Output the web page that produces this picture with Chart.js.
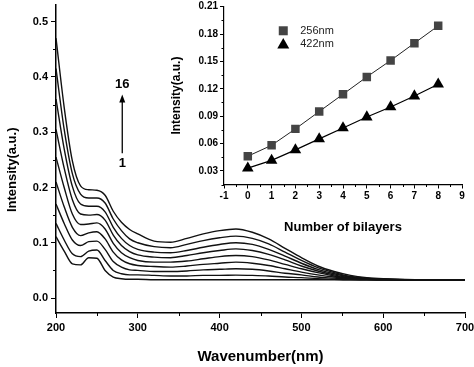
<!DOCTYPE html>
<html>
<head>
<meta charset="utf-8">
<title>UV-vis spectra of multilayer film</title>
<script src="https://cdn.jsdelivr.net/npm/chart.js@4.4.0/dist/chart.umd.min.js"></script>
<style>
    html, body { margin: 0; padding: 0; background: #fff; }
    #wrap { position: relative; width: 474px; height: 367px; overflow: hidden; }
    #mainChart { position: absolute; left: 0; top: 0; }
    #insetChart { position: absolute; left: 160px; top: 0; }
</style>
</head>
<body>
<div id="wrap">
    <canvas id="mainChart" width="474" height="367"></canvas>
    <canvas id="insetChart" width="314" height="240"></canvas>
</div>
<script>
// ============================================================
// DATA - main spectra (bottom curve first)
// ============================================================
const wavelengths = [200, 210, 220, 230, 240, 250, 260, 270, 280, 290, 300, 320, 340, 360,
                     380, 400, 420, 440, 460, 480, 500, 520, 540, 560, 580, 600, 650, 700];

const spectrum1 = [0.111, 0.085, 0.062, 0.060, 0.073, 0.072, 0.050, 0.038, 0.035, 0.034, 0.034, 0.033, 0.033, 0.033,
                   0.033, 0.033, 0.033, 0.033, 0.033, 0.033, 0.033, 0.033, 0.033, 0.033, 0.033, 0.033, 0.033, 0.033];
const spectrum2 = [0.135, 0.105, 0.080, 0.075, 0.085, 0.087, 0.068, 0.050, 0.044, 0.042, 0.042, 0.041, 0.040, 0.040,
                   0.041, 0.041, 0.0415, 0.041, 0.040, 0.038, 0.037, 0.035, 0.034, 0.033, 0.033, 0.033, 0.033, 0.033];
const spectrum3 = [0.170, 0.135, 0.105, 0.095, 0.102, 0.103, 0.088, 0.066, 0.056, 0.051, 0.050, 0.048, 0.048, 0.049,
                   0.051, 0.052, 0.053, 0.052, 0.049, 0.045, 0.042, 0.038, 0.036, 0.034, 0.033, 0.033, 0.033, 0.033];
const spectrum4 = [0.210, 0.165, 0.128, 0.113, 0.118, 0.120, 0.107, 0.083, 0.069, 0.062, 0.059, 0.057, 0.056, 0.058,
                   0.061, 0.063, 0.065, 0.063, 0.059, 0.053, 0.047, 0.042, 0.038, 0.035, 0.034, 0.033, 0.033, 0.033];
const spectrum5 = [0.255, 0.200, 0.152, 0.133, 0.134, 0.136, 0.125, 0.099, 0.082, 0.073, 0.068, 0.065, 0.065, 0.067,
                   0.071, 0.075, 0.077, 0.075, 0.069, 0.061, 0.053, 0.046, 0.040, 0.036, 0.034, 0.033, 0.033, 0.033];
const spectrum6 = [0.305, 0.235, 0.178, 0.152, 0.150, 0.151, 0.141, 0.114, 0.095, 0.084, 0.078, 0.074, 0.073, 0.077,
                   0.082, 0.086, 0.089, 0.086, 0.079, 0.069, 0.058, 0.049, 0.042, 0.037, 0.035, 0.034, 0.033, 0.033];
const spectrum7 = [0.360, 0.270, 0.202, 0.170, 0.166, 0.166, 0.156, 0.128, 0.108, 0.095, 0.088, 0.083, 0.082, 0.086,
                   0.092, 0.097, 0.100, 0.097, 0.088, 0.076, 0.063, 0.052, 0.044, 0.038, 0.035, 0.034, 0.033, 0.033];
const spectrum8 = [0.415, 0.305, 0.225, 0.188, 0.181, 0.181, 0.172, 0.143, 0.122, 0.107, 0.100, 0.093, 0.091, 0.097,
                   0.104, 0.109, 0.112, 0.108, 0.098, 0.083, 0.068, 0.055, 0.046, 0.039, 0.036, 0.034, 0.033, 0.033];
const spectrum9 = [0.470, 0.345, 0.248, 0.203, 0.196, 0.195, 0.186, 0.157, 0.137, 0.124, 0.116, 0.103, 0.101, 0.108,
                   0.116, 0.122, 0.125, 0.119, 0.107, 0.090, 0.073, 0.058, 0.048, 0.041, 0.037, 0.035, 0.033, 0.033];

const mainXTicks = [200, 300, 400, 500, 600, 700];
const mainYTicks = [0.0, 0.1, 0.2, 0.3, 0.4, 0.5];

// ============================================================
// DATA - inset
// ============================================================
const bilayers = [0, 1, 2, 3, 4, 5, 6, 7, 8];
const peak256 = [0.046, 0.058, 0.076, 0.095, 0.114, 0.133, 0.151, 0.170, 0.189];
const peak422 = [0.033, 0.0415, 0.053, 0.065, 0.077, 0.089, 0.100, 0.112, 0.125];
const insetXTicks = [-1, 0, 1, 2, 3, 4, 5, 6, 7, 8, 9];
const insetYTicks = [0.03, 0.06, 0.09, 0.12, 0.15, 0.18, 0.21];

(function () {
    'use strict';

    const FONT = '"Liberation Sans", Arial, sans-serif';
    const spectra = [spectrum1, spectrum2, spectrum3, spectrum4, spectrum5,
                     spectrum6, spectrum7, spectrum8, spectrum9];

    // ============================================================
    // PLUGINS
    // ============================================================
    // short outward ticks between the labelled ones
    const minorTicks = {
        id: 'minorTicks',
        afterDraw(chart, args, opts) {
            const ctx = chart.ctx;
            ctx.save();
            ctx.strokeStyle = '#000';
            ctx.lineWidth = 1;
            (opts.axes || []).forEach(a => {
                const scale = chart.scales[a.id];
                for (let i = 0; i < 200; i++) {
                    const v = a.from + i * a.step;
                    if (v > scale.max + 1e-9) break;
                    if (v < scale.min) continue;
                    const p = Math.round(scale.getPixelForValue(v)) + 0.5;
                    ctx.beginPath();
                    if (scale.isHorizontal()) {
                        ctx.moveTo(p, scale.top);
                        ctx.lineTo(p, scale.top + a.len);
                    } else {
                        ctx.moveTo(scale.right, p);
                        ctx.lineTo(scale.right - a.len, p);
                    }
                    ctx.stroke();
                }
            });
            ctx.restore();
        }
    };

    // "1 -> 16" arrow and the rotated y title of the main plot
    const arrowNote = {
        id: 'arrowNote',
        afterDatasetsDraw(chart, args, o) {
            const x = chart.scales.x, y = chart.scales.y;
            const ctx = chart.ctx;
            const px = x.getPixelForValue(o.x);
            const yFrom = y.getPixelForValue(o.from);
            const yTo = y.getPixelForValue(o.to);
            ctx.save();
            ctx.strokeStyle = '#000';
            ctx.fillStyle = '#000';
            ctx.lineWidth = 1.3;
            ctx.beginPath();
            ctx.moveTo(px, yFrom);
            ctx.lineTo(px, yTo + 6);
            ctx.stroke();
            ctx.beginPath();
            ctx.moveTo(px, yTo);
            ctx.lineTo(px - 3, yTo + 8);
            ctx.lineTo(px + 3, yTo + 8);
            ctx.closePath();
            ctx.fill();
            ctx.font = 'bold 13px ' + FONT;
            ctx.textAlign = 'center';
            ctx.textBaseline = 'middle';
            ctx.fillText(o.topText, px, y.getPixelForValue(o.topAt));
            ctx.fillText(o.bottomText, px, y.getPixelForValue(o.bottomAt));

            // y title, centred a little below the axis middle as in the source
            ctx.translate(o.titleX, y.getPixelForValue(o.titleAt));
            ctx.rotate(-Math.PI / 2);
            ctx.font = 'bold 13px ' + FONT;
            ctx.fillText(o.title, 0, 0);
            ctx.restore();
        }
    };

    // legend drawn inside the inset plot
    const insetLegend = {
        id: 'insetLegend',
        afterDatasetsDraw(chart, args, o) {
            const x = chart.scales.x, y = chart.scales.y;
            const ctx = chart.ctx;
            ctx.save();
            ctx.font = '11px ' + FONT;
            ctx.textBaseline = 'middle';
            ctx.textAlign = 'left';
            chart.data.datasets.forEach((ds, i) => {
                const mx = x.getPixelForValue(o.markX);
                const my = y.getPixelForValue(o.rows[i]);
                ctx.fillStyle = ds.pointBackgroundColor;
                ctx.beginPath();
                if (ds.pointStyle === 'rect') {
                    ctx.rect(mx - 4.5, my - 4.5, 9, 9);
                } else {
                    ctx.moveTo(mx, my - 6);
                    ctx.lineTo(mx + 6, my + 4.5);
                    ctx.lineTo(mx - 6, my + 4.5);
                    ctx.closePath();
                }
                ctx.fill();
                ctx.fillStyle = '#222';
                ctx.fillText(ds.label, x.getPixelForValue(o.textX), my);
            });
            ctx.restore();
        }
    };

    // ============================================================
    // HELPERS
    // ============================================================
    function axisStyle(fontSize) {
        return {
            grid: { drawOnChartArea: false, drawTicks: true, tickLength: 5, color: '#000', lineWidth: 1 },
            border: { display: true, color: '#000', width: 1.5 },
            ticks: { color: '#000', font: { family: FONT, size: fontSize, weight: 'bold' } }
        };
    }

    function fixTicks(list) {
        return (scale) => { scale.ticks = list.map(v => ({ value: v })); };
    }

    // ============================================================
    // MAIN CHART
    // ============================================================
    const mainX = axisStyle(11);
    const mainY = axisStyle(11);

    new Chart(document.getElementById('mainChart'), {
        type: 'line',
        data: {
            labels: wavelengths,
            datasets: spectra.map((s, i) => ({
                label: 'spectrum ' + (i + 1),
                data: wavelengths.map((w, k) => ({ x: w, y: s[k] })),
                borderColor: '#111',
                borderWidth: 1.4,
                pointRadius: 0,
                fill: false,
                cubicInterpolationMode: 'monotone'
            }))
        },
        options: {
            responsive: false,
            animation: false,
            devicePixelRatio: 1,
            layout: { padding: { top: 5, right: 9, left: 0, bottom: 0 } },
            plugins: {
                legend: { display: false },
                tooltip: { enabled: false },
                minorTicks: { axes: [
                    { id: 'x', from: 250, step: 100, len: 3 },
                    { id: 'y', from: 0.05, step: 0.1, len: 3 }
                ] },
                arrowNote: { x: 281, from: 0.262, to: 0.368, topAt: 0.386, topText: '16', bottomAt: 0.243, bottomText: '1',
                             title: 'Intensity(a.u.)', titleX: 12, titleAt: 0.232 }
            },
            scales: {
                x: Object.assign(mainX, {
                    type: 'linear',
                    min: 200,
                    max: 700,
                    afterBuildTicks: fixTicks(mainXTicks),
                    ticks: Object.assign(mainX.ticks, { padding: 3, maxRotation: 0, autoSkip: false }),
                    title: { display: true, text: 'Wavenumber(nm)', color: '#000',
                             font: { family: FONT, size: 15, weight: 'bold' }, padding: { top: 8, bottom: 1 } },
                    afterFit: (s) => { s.height = 54; s.paddingLeft = 0; s.paddingRight = 0; }
                }),
                y: Object.assign(mainY, {
                    min: -0.027,
                    max: 0.53,
                    afterBuildTicks: fixTicks(mainYTicks),
                    ticks: Object.assign(mainY.ticks, { padding: 3, callback: (v) => v.toFixed(1) }),
                    title: { display: false },
                    afterFit: (s) => { s.width = 56; s.paddingTop = 0; s.paddingBottom = 0; }
                })
            }
        },
        plugins: [minorTicks, arrowNote]
    });

    // ============================================================
    // INSET CHART
    // ============================================================
    const insX = axisStyle(10);
    const insY = axisStyle(10);
    insX.grid.tickLength = 4;
    insY.grid.tickLength = 4;
    insX.border.width = 1.2;
    insY.border.width = 1.2;

    new Chart(document.getElementById('insetChart'), {
        type: 'line',
        data: {
            datasets: [{
                label: '256nm',
                data: bilayers.map((b, i) => ({ x: b, y: peak256[i] })),
                borderColor: '#222',
                borderWidth: 1,
                pointStyle: 'rect',
                pointRadius: 6,
                pointBackgroundColor: '#444',
                pointBorderColor: '#444',
                pointBorderWidth: 0,
                tension: 0
            }, {
                label: '422nm',
                data: bilayers.map((b, i) => ({ x: b, y: peak422[i] })),
                borderColor: '#000',
                borderWidth: 1.2,
                pointStyle: 'triangle',
                pointRadius: 6.7,
                pointBackgroundColor: '#000',
                pointBorderColor: '#000',
                pointBorderWidth: 0,
                tension: 0
            }]
        },
        options: {
            responsive: false,
            animation: false,
            devicePixelRatio: 1,
            layout: { padding: { top: 5, right: 12, left: 0, bottom: 0 } },
            plugins: {
                legend: { display: false },
                tooltip: { enabled: false },
                minorTicks: { axes: [
                    { id: 'x', from: -0.5, step: 1, len: 2.5 },
                    { id: 'y', from: 0.015, step: 0.03, len: 2.5 }
                ] },
                insetLegend: { markX: 1.49, textX: 2.2, rows: [0.1836, 0.169] }
            },
            scales: {
                x: Object.assign(insX, {
                    type: 'linear',
                    min: -1,
                    max: 9,
                    afterBuildTicks: fixTicks(insetXTicks),
                    ticks: Object.assign(insX.ticks, { padding: 2, maxRotation: 0, autoSkip: false }),
                    title: { display: true, text: 'Number of bilayers', color: '#000',
                             font: { family: FONT, size: 13, weight: 'bold' }, padding: { top: 4, bottom: 5 } },
                    afterFit: (s) => { s.height = 55.5; s.paddingLeft = 0; s.paddingRight = 0; }
                }),
                y: Object.assign(insY, {
                    min: 0.015,
                    max: 0.21,
                    afterBuildTicks: fixTicks(insetYTicks),
                    ticks: Object.assign(insY.ticks, { padding: 2, callback: (v) => v.toFixed(2) }),
                    title: { display: true, text: 'Intensity(a.u.)', color: '#000',
                             font: { family: FONT, size: 12, weight: 'bold' }, padding: { top: 9, bottom: 4 } },
                    afterFit: (s) => { s.width = 64; s.paddingTop = 0; s.paddingBottom = 0; }
                })
            }
        },
        plugins: [minorTicks, insetLegend]
    });
})();
</script>
</body>
</html>
